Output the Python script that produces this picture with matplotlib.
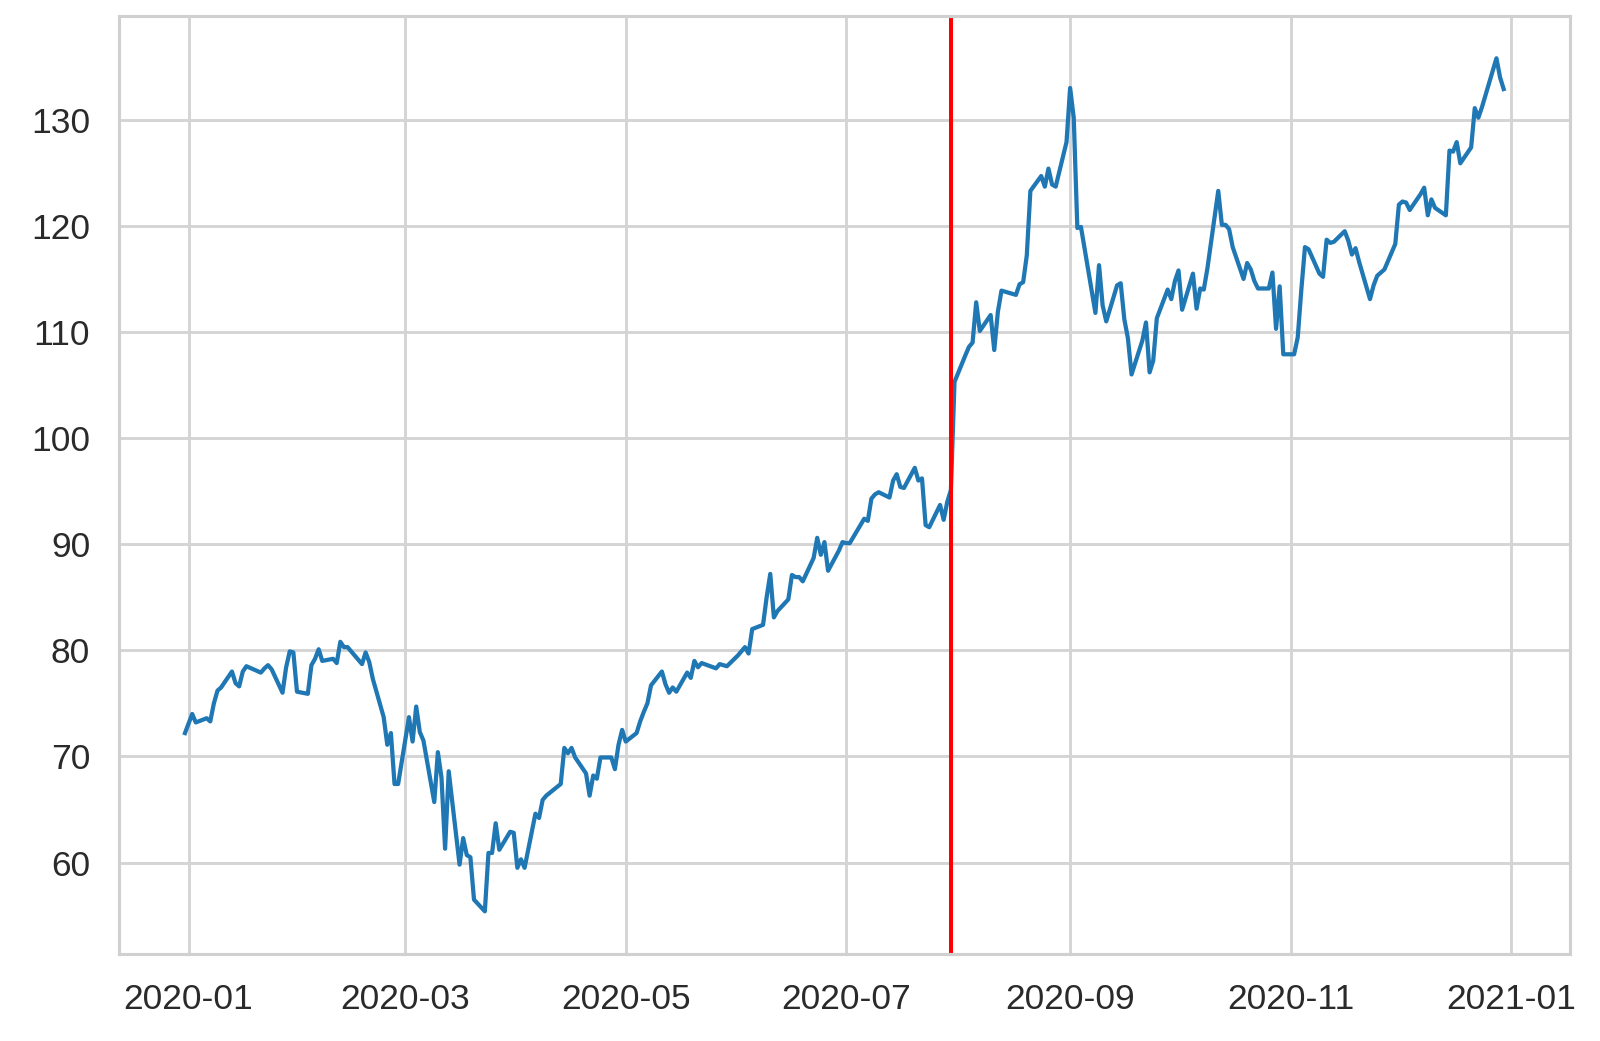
import matplotlib
matplotlib.use("Agg")
import matplotlib.pyplot as plt
import matplotlib.dates as mdates
import pandas as pd

# daily close (one row per month)
dates = [
    "2019-12-31", "2020-01-02", "2020-01-03", "2020-01-06", "2020-01-07", "2020-01-08", "2020-01-09",
    "2020-01-10", "2020-01-13", "2020-01-14", "2020-01-15", "2020-01-16", "2020-01-17", "2020-01-21",
    "2020-01-22", "2020-01-23", "2020-01-24", "2020-01-27", "2020-01-28", "2020-01-29", "2020-01-30",
    "2020-01-31",
    "2020-02-03", "2020-02-04", "2020-02-05", "2020-02-06", "2020-02-07", "2020-02-10", "2020-02-11",
    "2020-02-12", "2020-02-13", "2020-02-14", "2020-02-18", "2020-02-19", "2020-02-20", "2020-02-21",
    "2020-02-24", "2020-02-25", "2020-02-26", "2020-02-27", "2020-02-28",
    "2020-03-02", "2020-03-03", "2020-03-04", "2020-03-05", "2020-03-06", "2020-03-09", "2020-03-10",
    "2020-03-11", "2020-03-12", "2020-03-13", "2020-03-16", "2020-03-17", "2020-03-18", "2020-03-19",
    "2020-03-20", "2020-03-23", "2020-03-24", "2020-03-25", "2020-03-26", "2020-03-27", "2020-03-30",
    "2020-03-31",
    "2020-04-01", "2020-04-02", "2020-04-03", "2020-04-06", "2020-04-07", "2020-04-08", "2020-04-09",
    "2020-04-13", "2020-04-14", "2020-04-15", "2020-04-16", "2020-04-17", "2020-04-20", "2020-04-21",
    "2020-04-22", "2020-04-23", "2020-04-24", "2020-04-27", "2020-04-28", "2020-04-29", "2020-04-30",
    "2020-05-01", "2020-05-04", "2020-05-05", "2020-05-06", "2020-05-07", "2020-05-08", "2020-05-11",
    "2020-05-12", "2020-05-13", "2020-05-14", "2020-05-15", "2020-05-18", "2020-05-19", "2020-05-20",
    "2020-05-21", "2020-05-22", "2020-05-26", "2020-05-27", "2020-05-28", "2020-05-29",
    "2020-06-01", "2020-06-02", "2020-06-03", "2020-06-04", "2020-06-05", "2020-06-08", "2020-06-09",
    "2020-06-10", "2020-06-11", "2020-06-12", "2020-06-15", "2020-06-16", "2020-06-17", "2020-06-18",
    "2020-06-19", "2020-06-22", "2020-06-23", "2020-06-24", "2020-06-25", "2020-06-26", "2020-06-29",
    "2020-06-30",
    "2020-07-01", "2020-07-02", "2020-07-06", "2020-07-07", "2020-07-08", "2020-07-09", "2020-07-10",
    "2020-07-13", "2020-07-14", "2020-07-15", "2020-07-16", "2020-07-17", "2020-07-20", "2020-07-21",
    "2020-07-22", "2020-07-23", "2020-07-24", "2020-07-27", "2020-07-28", "2020-07-29", "2020-07-30",
    "2020-07-31",
    "2020-08-03", "2020-08-04", "2020-08-05", "2020-08-06", "2020-08-07", "2020-08-10", "2020-08-11",
    "2020-08-12", "2020-08-13", "2020-08-14", "2020-08-17", "2020-08-18", "2020-08-19", "2020-08-20",
    "2020-08-21", "2020-08-24", "2020-08-25", "2020-08-26", "2020-08-27", "2020-08-28", "2020-08-31",
    "2020-09-01", "2020-09-02", "2020-09-03", "2020-09-04", "2020-09-08", "2020-09-09", "2020-09-10",
    "2020-09-11", "2020-09-14", "2020-09-15", "2020-09-16", "2020-09-17", "2020-09-18", "2020-09-21",
    "2020-09-22", "2020-09-23", "2020-09-24", "2020-09-25", "2020-09-28", "2020-09-29", "2020-09-30",
    "2020-10-01", "2020-10-02", "2020-10-05", "2020-10-06", "2020-10-07", "2020-10-08", "2020-10-09",
    "2020-10-12", "2020-10-13", "2020-10-14", "2020-10-15", "2020-10-16", "2020-10-19", "2020-10-20",
    "2020-10-21", "2020-10-22", "2020-10-23", "2020-10-26", "2020-10-27", "2020-10-28", "2020-10-29",
    "2020-10-30",
    "2020-11-02", "2020-11-03", "2020-11-04", "2020-11-05", "2020-11-06", "2020-11-09", "2020-11-10",
    "2020-11-11", "2020-11-12", "2020-11-13", "2020-11-16", "2020-11-17", "2020-11-18", "2020-11-19",
    "2020-11-20", "2020-11-23", "2020-11-24", "2020-11-25", "2020-11-27", "2020-11-30",
    "2020-12-01", "2020-12-02", "2020-12-03", "2020-12-04", "2020-12-07", "2020-12-08", "2020-12-09",
    "2020-12-10", "2020-12-11", "2020-12-14", "2020-12-15", "2020-12-16", "2020-12-17", "2020-12-18",
    "2020-12-21", "2020-12-22", "2020-12-23", "2020-12-24", "2020-12-28", "2020-12-29", "2020-12-30",
]

close = [
    72.2, 74.0, 73.2, 73.6, 73.3, 75.0, 76.2,
    76.5, 78.0, 76.9, 76.6, 78.0, 78.5, 77.9,
    78.3, 78.6, 78.2, 76.0, 78.4, 79.9, 79.8,
    76.1,
    75.9, 78.6, 79.2, 80.1, 79.0, 79.2, 78.8,
    80.8, 80.3, 80.3, 78.7, 79.8, 78.9, 77.3,
    73.7, 71.1, 72.2, 67.4, 67.4,
    73.7, 71.4, 74.7, 72.3, 71.5, 65.7, 70.4,
    68.0, 61.3, 68.6, 59.8, 62.3, 60.7, 60.5,
    56.5, 55.4, 60.9, 60.9, 63.7, 61.2, 62.9,
    62.8,
    59.5, 60.3, 59.5, 64.6, 64.2, 65.9, 66.3,
    67.4, 70.8, 70.3, 70.8, 69.9, 68.4, 66.3,
    68.2, 67.9, 69.9, 69.9, 68.8, 71.1, 72.5,
    71.4, 72.2, 73.3, 74.2, 75.0, 76.7, 78.0,
    76.8, 76.0, 76.5, 76.1, 77.9, 77.4, 79.0,
    78.4, 78.8, 78.3, 78.7, 78.6, 78.5,
    79.5, 79.9, 80.3, 79.7, 82.0, 82.4, 85.0,
    87.2, 83.1, 83.7, 84.8, 87.1, 86.9, 86.9,
    86.5, 88.7, 90.6, 89.0, 90.2, 87.5, 89.4,
    90.2,
    90.1, 90.1, 92.4, 92.2, 94.3, 94.7, 94.9,
    94.4, 96.0, 96.6, 95.4, 95.3, 97.2, 96.0,
    96.2, 91.8, 91.6, 93.7, 92.3, 94.0, 95.1,
    105.3,
    107.8, 108.6, 109.0, 112.8, 110.1, 111.6, 108.3,
    111.9, 113.9, 113.8, 113.5, 114.5, 114.7, 117.2,
    123.3, 124.7, 123.7, 125.4, 123.9, 123.7, 127.9,
    133.0, 130.2, 119.8, 119.9, 111.8, 116.3, 112.5,
    111.0, 114.4, 114.6, 111.2, 109.4, 106.0, 109.2,
    110.9, 106.2, 107.3, 111.3, 114.0, 113.1, 114.8,
    115.8, 112.1, 115.5, 112.2, 114.1, 114.0, 116.0,
    123.3, 120.1, 120.1, 119.7, 118.0, 115.0, 116.5,
    115.9, 114.8, 114.1, 114.1, 115.6, 110.3, 114.3,
    107.9,
    107.9, 109.5, 114.0, 118.0, 117.8, 115.5, 115.2,
    118.7, 118.4, 118.5, 119.5, 118.6, 117.3, 117.9,
    116.6, 113.1, 114.4, 115.3, 115.9, 118.3,
    122.0, 122.3, 122.2, 121.5, 123.0, 123.6, 121.0,
    122.5, 121.7, 121.0, 127.1, 127.0, 127.9, 125.9,
    127.4, 131.1, 130.2, 131.2, 135.8, 134.0, 132.9,
]

event_date = "2020-07-30"

df = pd.DataFrame({"close": close}, index=pd.to_datetime(dates))

plt.rcParams["font.family"] = ["Liberation Sans", "DejaVu Sans"]

fig, ax = plt.subplots(figsize=(10, 6.50625), dpi=160)
fig.subplots_adjust(left=0.0744, right=0.981, top=0.985, bottom=0.0836)

ax.plot(df.index, df["close"], color="#1f77b4", lw=1.9)
ax.axvline(pd.Timestamp(event_date), color="red", lw=1.8)

ax.xaxis.set_major_locator(mdates.MonthLocator(bymonth=[1, 3, 5, 7, 9, 11]))
ax.xaxis.set_major_formatter(mdates.DateFormatter("%Y-%m"))

ax.set_axisbelow(True)
ax.grid(True, color="#d4d4d4", lw=1.3)
for s in ax.spines.values():
    s.set_color("#d0d0d0")
    s.set_linewidth(1.4)
ax.tick_params(length=0, pad=13, labelsize=15.9, labelcolor="#2a2a2a")

fig.savefig("out.png")
